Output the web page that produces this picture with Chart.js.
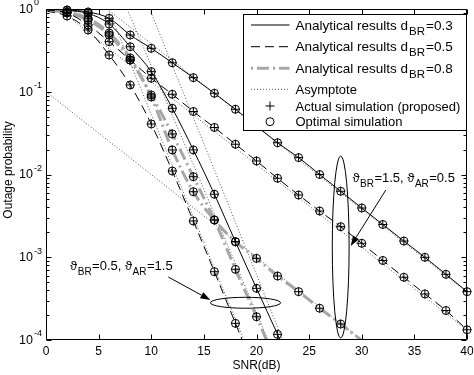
<!DOCTYPE html>
<html><head><meta charset="utf-8">
<script src="https://cdn.jsdelivr.net/npm/chart.js@4.4.0/dist/chart.umd.min.js"></script>
<style>html,body{margin:0;padding:0;background:#fff;}#wrap{width:474px;height:375px;}</style>
</head><body><div id="wrap"><canvas id="c" width="474" height="375"></canvas></div>
<script>
// ---------- data ----------
const snrDb = [0,2,4,6,8,10,12,14,16,18,20,22,24,26,28,30,32,34,36,38,40];
// theta_BR=1.5, theta_AR=0.5
const poutA_d03 = [0.986,0.973,0.92,0.772,0.485,0.335,0.224,0.148,0.0958,0.0614,0.0386,0.0242,0.0160,0.0100,0.00627,0.00394,0.00249,0.00157,0.000998,0.000622,0.000384];
const poutA_d05 = [0.973,0.895,0.641,0.403,0.242,0.1455,0.0932,0.0577,0.0370,0.0232,0.01456,0.0090,0.00565,0.00362,0.00234,0.001475,0.000914,0.000573,0.00036,0.000227,0.000133];
const poutA_d08 = [0.973,0.92,0.772,0.513,0.256,0.0864,0.0198,0.00619,0.00282,0.00154,0.00097,0.000593,0.000384,0.000242,0.000156,0.0000986,0.000062];
// theta_BR=0.5, theta_AR=1.5
const poutB_d03 = [0.986,0.959,0.883,0.659,0.350,0.175,0.0631,0.0198,0.00577,0.00154,0.000421,0.000117,0.000031];
const poutB_d05 = [0.946,0.823,0.557,0.278,0.1207,0.0408,0.01102,0.00274,0.000669,0.000159,0.0000378];
const poutB_d08 = [0.973,0.907,0.736,0.485,0.242,0.0914,0.0309,0.0094,0.00282,0.000715,0.000191,0.0000485];
// asymptotes (straight lines on log scale): [snr start, snr end], [pout start, pout end]
const asymA_d03 = {snr:[5.8,40], pout:[1,0.00038]};
const asymA_d05 = {snr:[1.2,40], pout:[1,0.000132]};
const asymA_d08 = {snr:[0,30], pout:[0.1,0.0001]};
const asymB_d03 = {snr:[9.85,22.5], pout:[1,0.0001]};
const asymB_d05 = {snr:[5.9,18.8], pout:[1,0.0001]};
const asymB_d08 = {snr:[7.7,21.1], pout:[1,0.0001]};
// ticks
const xTicks = [0,5,10,15,20,25,30,35,40];
const yTicks = [1,0.1,0.01,0.001,0.0001];
const legendLabels = [
  ['Analytical results d','BR','=0.3'],
  ['Analytical results d','BR','=0.5'],
  ['Analytical results d','BR','=0.8'],
  ['Asymptote'],
  ['Actual simulation (proposed)'],
  ['Optimal simulation']
];

// ---------- styles ----------
const FONT = '"Liberation Sans", Arial, Helvetica, sans-serif';
const STY = {
  d03: {color:'#000', width:1, dash:[]},
  d05: {color:'#000', width:1, dash:[9,5]},
  d08: {color:'#a6a6a6', width:3, dash:[2,4,12,4]},
  asym: {color:'#555', width:1, dash:[1,2]}
};

function pts(xs, ys){ return ys.map((v,i)=>({x:xs[i], y:v})); }
function markers(ys){ return pts(snrDb, ys).filter(p=>p.x>=2 && p.y>=1e-4 && p.y<=1); }

const datasets = [];
const curves = [
  [poutA_d03, STY.d03],[poutA_d05, STY.d05],[poutA_d08, STY.d08],
  [poutB_d03, STY.d03],[poutB_d05, STY.d05],[poutB_d08, STY.d08]
];
curves.forEach(([vals, s])=>{
  datasets.push({data: pts(snrDb, vals), borderColor:s.color, borderWidth:s.width, borderDash:s.dash,
    pointRadius:0, fill:false, cubicInterpolationMode:'monotone', order:2});
  datasets.push({data: markers(vals), showLine:false, pointStyle:'circle', pointRadius:4, pointBorderWidth:1,
    pointBorderColor:'#000', pointBackgroundColor:'rgba(0,0,0,0)', order:0, clip:false});
  datasets.push({data: markers(vals), showLine:false, pointStyle:'cross', pointRadius:4.5, pointBorderWidth:1,
    pointBorderColor:'#000', order:0, clip:false});
});
[asymA_d03, asymA_d05, asymA_d08, asymB_d03, asymB_d05, asymB_d08].forEach(a=>{
  datasets.push({data: pts(a.snr, a.pout), borderColor:STY.asym.color, borderWidth:STY.asym.width,
    borderDash:STY.asym.dash, pointRadius:0, fill:false, order:3});
});

// annotation positions in data units
const notes = {
  text1: {snr:2.29, pout:7.0e-4, parts:[['ϑ'],['BR',1],['=0.5, ϑ'],['AR',1],['=1.5']]},
  text2: {snr:29.11, pout:8.18e-3, parts:[['ϑ'],['BR',1],['=1.5, ϑ'],['AR',1],['=0.5']]},
  ell1: {snr:[15.62,22.29], pout:[2.42e-4,3.28e-4]},
  ell2: {snr:[27.2,28.8], pout:[1.06e-4,1.67e-2]},
  arr1: {snr:[11.62,15.62], pout:[5.77e-4,3.04e-4]},
  arr2: {snr:[32.29,28.95], pout:[6.5e-3,1.37e-3]}
};

function drawRich(ctx, parts, x, y, main, sub, gap){
  ctx.textAlign='left'; ctx.textBaseline='alphabetic';
  parts.forEach(p=>{
    if(p[1]){ x += gap; ctx.font = sub+'px '+FONT; ctx.fillText(p[0], x, y+5); x += ctx.measureText(p[0]).width + gap; }
    else { ctx.font = main+'px '+FONT; ctx.fillText(p[0], x, y); x += ctx.measureText(p[0]).width; }
  });
}
function arrow(ctx, x1,y1,x2,y2){
  const ang = Math.atan2(y2-y1, x2-x1), L=10, W=3.5;
  const bx = x2 - L*Math.cos(ang), by = y2 - L*Math.sin(ang);
  ctx.beginPath(); ctx.moveTo(x1,y1); ctx.lineTo(bx,by); ctx.stroke();
  ctx.beginPath(); ctx.moveTo(x2,y2);
  ctx.lineTo(bx + W*Math.sin(ang), by - W*Math.cos(ang));
  ctx.lineTo(bx - W*Math.sin(ang), by + W*Math.cos(ang));
  ctx.closePath(); ctx.fill();
}

const decor = {
  id:'decor',
  afterDraw(chart){
    const ctx = chart.ctx, a = chart.chartArea, X = chart.scales.x, Y = chart.scales.y;
    const px = v=>X.getPixelForValue(v), py = v=>Y.getPixelForValue(v);
    ctx.save();
    ctx.strokeStyle='#000'; ctx.fillStyle='#000'; ctx.lineWidth=1; ctx.setLineDash([]);
    // annotations
    [notes.ell1, notes.ell2].forEach(e=>{
      const x1=px(e.snr[0]), x2=px(e.snr[1]), y1=py(e.pout[1]), y2=py(e.pout[0]);
      ctx.beginPath(); ctx.ellipse((x1+x2)/2,(y1+y2)/2,(x2-x1)/2,(y2-y1)/2,0,0,Math.PI*2); ctx.stroke();
    });
    [notes.arr1, notes.arr2].forEach(r=>arrow(ctx, px(r.snr[0]), py(r.pout[0]), px(r.snr[1]), py(r.pout[1])));
    [notes.text1, notes.text2].forEach(t=>drawRich(ctx, t.parts, px(t.snr), py(t.pout), 13, 10, 0.5));
    // axes box
    const L=Math.round(a.left)+0.5, R=Math.round(a.right)-0.5, T=Math.round(a.top)+0.5, B=Math.round(a.bottom)-0.5;
    ctx.beginPath(); ctx.rect(L,T,R-L,B-T); ctx.stroke();
    // x ticks
    ctx.font='12px '+FONT; ctx.textAlign='center'; ctx.textBaseline='middle';
    xTicks.forEach(v=>{
      const x = Math.round(px(v))+0.5;
      ctx.beginPath(); ctx.moveTo(x,B); ctx.lineTo(x,B-5); ctx.moveTo(x,T); ctx.lineTo(x,T+5); ctx.stroke();
      ctx.fillText(String(v), px(v), 352);
    });
    // y ticks
    yTicks.forEach(v=>{
      const y = Math.round(py(v))+0.5;
      ctx.beginPath(); ctx.moveTo(L,y); ctx.lineTo(L+5,y); ctx.moveTo(R,y); ctx.lineTo(R-5,y); ctx.stroke();
      if(v<1){ for(let m=2;m<=9;m++){ const ym=Math.round(py(v*m))+0.5;
        ctx.beginPath(); ctx.moveTo(L,ym); ctx.lineTo(L+3,ym); ctx.moveTo(R,ym); ctx.lineTo(R-3,ym); ctx.stroke(); } }
      ctx.font='12.5px '+FONT; ctx.textAlign='right'; ctx.textBaseline='middle';
      ctx.fillText('10', 33, py(v)+0.5);
      ctx.font='9px '+FONT; ctx.textAlign='left';
      ctx.fillText(String(Math.round(Math.log10(v))), 34, py(v)-6);
    });
    // axis titles
    ctx.font='12px '+FONT; ctx.textAlign='center'; ctx.textBaseline='middle';
    ctx.fillText('SNR(dB)', 256.5, 366);
    ctx.save(); ctx.translate(9,170); ctx.rotate(-Math.PI/2); ctx.fillText('Outage probability',0,0); ctx.restore();
    // legend
    ctx.fillStyle='#fff'; ctx.fillRect(243.5,14.5,223,116); ctx.strokeRect(243.5,14.5,223,116);
    ctx.fillStyle='#000';
    const rows=[25,46.7,68.3,89.3,106,121.7];
    const sty=[STY.d03,STY.d05,STY.d08,STY.asym];
    sty.forEach((s,i)=>{ ctx.save(); ctx.strokeStyle=s.color; ctx.lineWidth=s.width; ctx.setLineDash(s.dash);
      ctx.beginPath(); ctx.moveTo(251,rows[i]); ctx.lineTo(289.5,rows[i]); ctx.stroke(); ctx.restore(); });
    ctx.beginPath(); ctx.moveTo(265.5,rows[4]); ctx.lineTo(274.5,rows[4]); ctx.moveTo(270,rows[4]-4.5); ctx.lineTo(270,rows[4]+4.5); ctx.stroke();
    ctx.beginPath(); ctx.arc(270,rows[5],4,0,Math.PI*2); ctx.stroke();
    legendLabels.forEach((lab,i)=>{
      if(lab.length===3) drawRich(ctx, [[lab[0]],[lab[1],1],[lab[2]]], 295.5, rows[i]+4.5, 13.5, 11.5, 1);
      else drawRich(ctx, [[lab[0]]], 295.5, rows[i]+4.5, 13, 10, 0);
    });
    ctx.restore();
  }
};

new Chart(document.getElementById('c'), {
  type:'line',
  data:{datasets},
  options:{
    responsive:false, animation:false, devicePixelRatio:1, events:[],
    layout:{padding:{left:46,right:7,top:9,bottom:35}},
    plugins:{legend:{display:false}, tooltip:{enabled:false}},
    scales:{
      x:{type:'linear', min:0, max:40, display:false},
      y:{type:'logarithmic', min:1e-4, max:1, display:false}
    }
  },
  plugins:[decor]
});
</script></body></html>
